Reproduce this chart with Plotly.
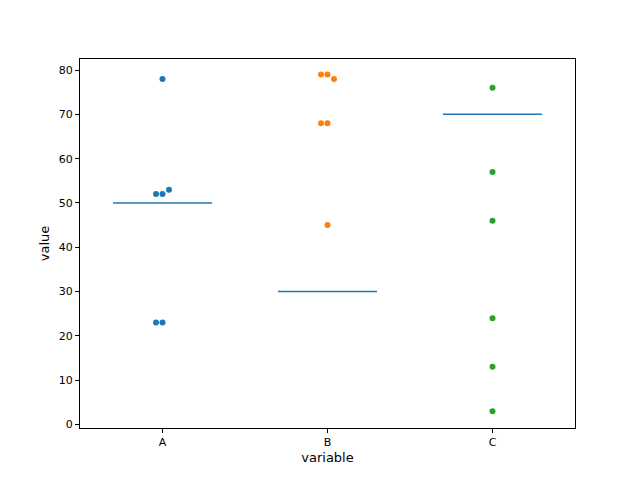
import plotly.graph_objects as go
import numpy as np

categories = ["A", "B", "C"]
values_a = [78, 52, 52, 53, 23, 23]
values_b = [79, 79, 78, 68, 68, 45]
values_c = [76, 57, 46, 24, 13, 3]
line_values = [50, 30, 70]
colors = ["#1f77b4", "#ff7f0e", "#2ca02c"]

PX_X = 165.0  # pixels per category
PX_Y = 354.0 / 80  # pixels per value unit
DIAM = 6.5


def swarm(vals):
    # simple beeswarm: place each point at the nearest free offset
    placed = []
    offs = []
    for v in vals:
        for k in [0, -1, 1, -2, 2, -3, 3]:
            dx = k * DIAM
            ok = all(np.hypot(dx - px, (v - pv) * PX_Y) >= DIAM for px, pv in placed)
            if ok:
                break
        placed.append((dx, v))
        offs.append(dx / PX_X)
    return offs


fig = go.Figure()
for i, (vals, c) in enumerate(zip([values_a, values_b, values_c], colors)):
    offs = swarm(vals)
    fig.add_trace(go.Scatter(x=[i + o for o in offs], y=vals, mode="markers",
                             marker=dict(color=c, size=6), showlegend=False))
    fig.add_trace(go.Scatter(x=[i - 0.3, i + 0.3], y=[line_values[i]] * 2, mode="lines",
                             line=dict(color="#1f77b4", width=1.5), showlegend=False))

axis = dict(showline=True, linecolor="black", linewidth=1, mirror=True, ticks="outside",
            ticklen=4, tickcolor="black", showgrid=False, zeroline=False,
            tickfont=dict(family="DejaVu Sans", size=11, color="black"))
fig.update_layout(
    width=640, height=480, plot_bgcolor="white", paper_bgcolor="white",
    margin=dict(l=72, r=73, t=51, b=60),
    font=dict(family="DejaVu Sans", size=11, color="black"),
    xaxis=dict(axis, range=[-0.5, 2.5], tickvals=[0, 1, 2], ticktext=categories,
               title=dict(text="variable", standoff=4)),
    yaxis=dict(axis, range=[-0.8, 82.5], tickvals=list(range(0, 81, 10)),
               title=dict(text="value", standoff=6)),
)
fig.write_html("out.html")
